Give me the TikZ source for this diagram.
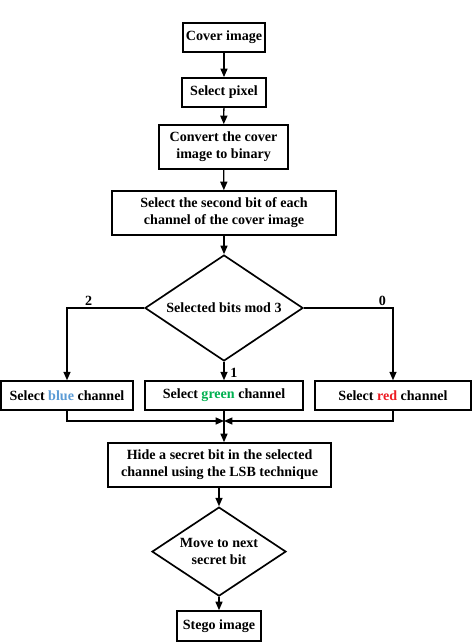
\documentclass[tikz,border=0pt]{standalone}
\usepackage{fontspec}
\setmainfont{Liberation Serif}
\usetikzlibrary{shapes.geometric, arrows.meta}

\definecolor{chblue}{RGB}{91,155,213}
\definecolor{chgreen}{RGB}{0,176,80}
\definecolor{chred}{RGB}{237,28,36}

\begin{document}
\begin{tikzpicture}[font=\bfseries\fontsize{10}{12}\selectfont,
        box/.style = {draw, line width=1.2pt, align=center, inner sep=0pt},
        choice/.style = {draw, diamond, aspect=1.5, line width=1.2pt, align=center, inner sep=0pt},
        flow/.style = {line width=0.9pt, -{Triangle[length=6pt, width=5pt]}},
        lbl/.style = {inner sep=1pt}]
        \useasboundingbox (0,0) rectangle (11.85,-16.05);

        \node[box, minimum width=2.05cm, minimum height=0.725cm] (cover) at (5.6,-0.94) {Cover image};
        \node[box, minimum width=2.1cm, minimum height=0.725cm] (pixel) at (5.6,-2.31) {Select pixel};
        \node[box, minimum width=3.225cm, minimum height=1.1cm] (binary) at (5.59,-3.675) {Convert the cover\\image to binary};
        \node[box, minimum width=5.6cm, minimum height=1.1cm] (secbit) at (5.6,-5.325) {Select the second bit of each\\channel of the cover image};
        \node[choice, minimum width=3.95cm, minimum height=2.65cm] (mod) at (5.6,-7.7) {Selected bits mod 3};

        \node[box, minimum width=3.3cm, minimum height=0.725cm] (blue) at (1.675,-9.89) {Select \textcolor{chblue}{blue} channel};
        \node[box, minimum width=3.95cm, minimum height=0.725cm] (green) at (5.6,-9.89) {Select \textcolor{chgreen}{green} channel};
        \node[box, minimum width=3.9cm, minimum height=0.725cm] (red) at (9.825,-9.89) {Select \textcolor{chred}{red} channel};
        \coordinate (merge) at (5.6,-10.525);

        \node[box, minimum width=5.575cm, minimum height=1.1cm] (hide) at (5.49,-11.625) {Hide a secret bit in the selected\\channel using the LSB technique};
        \node[choice, minimum width=3.35cm, minimum height=2.225cm] (next) at (5.475,-13.79) {Move to next\\secret bit};
        \node[box, minimum width=2.1cm, minimum height=0.75cm] (stego) at (5.475,-15.65) {Stego image};

        \draw[flow] (cover) -- (pixel);
        \draw[flow] (pixel) -- (binary);
        \draw[flow] (binary) -- (secbit);
        \draw[flow] (secbit) -- (mod);
        \draw[flow] (mod.west) -| node[lbl, pos=0.36, above] {2} (blue.north);
        \draw[flow] (mod.east) -| node[lbl, pos=0.44, above] {0} (red.north);
        \draw[flow] (mod.south) -- node[lbl, pos=0.6, right=3pt] {1} (green.north);
        \draw[flow] (blue.south) |- (merge);
        \draw[flow] (red.south) |- (merge);
        \draw[flow] (green.south) -- (green.south |- hide.north);
        \draw[flow] (hide.south -| next.north) -- (next.north);
        \draw[flow] (next.south) -- (stego.north);
\end{tikzpicture}
\end{document}
